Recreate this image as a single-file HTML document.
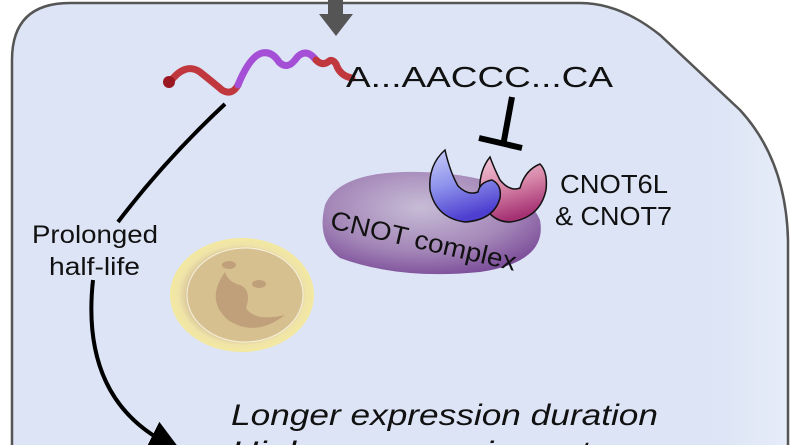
<!DOCTYPE html>
<html><head><meta charset="utf-8"><style>
html,body{margin:0;padding:0;background:#fff;width:800px;height:445px;overflow:hidden}
svg{display:block;overflow:hidden}
text{font-family:"Liberation Sans",sans-serif;fill:#111}
</style></head><body>
<svg width="800" height="445" viewBox="0 0 800 445">
<defs>
<clipPath id="frame"><rect x="0" y="0" width="800" height="445"/></clipPath>
<radialGradient id="ell" cx="0.45" cy="0.35" r="0.7">
<stop offset="0" stop-color="#c7bcd6"/><stop offset="0.6" stop-color="#a487b8"/><stop offset="1" stop-color="#7a4a98"/>
</radialGradient>
<linearGradient id="blue" x1="0" y1="0" x2="0.3" y2="1">
<stop offset="0" stop-color="#c9cdf7"/><stop offset="0.5" stop-color="#8f93ec"/><stop offset="1" stop-color="#4e3fd0"/>
</linearGradient>
<linearGradient id="pink" x1="0" y1="0" x2="0.3" y2="1">
<stop offset="0" stop-color="#f4c8d8"/><stop offset="0.5" stop-color="#d98aab"/><stop offset="1" stop-color="#a53173"/>
</linearGradient>
<radialGradient id="yel" cx="0.5" cy="0.5" r="0.5">
<stop offset="0.75" stop-color="#d9c49a"/><stop offset="0.88" stop-color="#efe3a8"/><stop offset="1" stop-color="#f3e9a0"/>
</radialGradient>
<linearGradient id="bg" x1="0" y1="0" x2="1" y2="0">
<stop offset="0" stop-color="#dde4f6"/><stop offset="0.9" stop-color="#dce4f5"/><stop offset="1" stop-color="#e6ecf8"/>
</linearGradient>
<marker id="ah" markerWidth="8" markerHeight="8" refX="5" refY="4" orient="auto" markerUnits="strokeWidth"><path d="M0,0 L8,4 L0,8 z" fill="#000"/></marker>
</defs>
<g clip-path="url(#frame)">
<path d="M12,447 L12,60 Q12,3 70,3 L580,3 Q620,3 660,35 L740,110 Q786,160 788,240 L788,447 Z" fill="url(#bg)" stroke="#555" stroke-width="2.5"/>
<path d="M328,0 L343,0 L343,14 L353,14 L336,36 L319,14 L328,14 Z" fill="#555"/>
<path d="M170,82 Q185,62 200,72 Q215,84 222,90 Q232,96 238,85" fill="none" stroke="#c0383e" stroke-width="7" stroke-linecap="round"/>
<path d="M238,85 Q250,56 262,53 Q272,51 279,62 Q287,70 295,60 Q305,46 316,60" fill="none" stroke="#a44fd6" stroke-width="7" stroke-linecap="round"/>
<path d="M316,60 Q322,66 328,62 Q332,58 336,64 Q340,76 352,78" fill="none" stroke="#c0383e" stroke-width="7" stroke-linecap="round"/>
<circle cx="169" cy="82" r="6" fill="#9a1822"/>
<text x="346" y="87" font-size="29" textLength="267" lengthAdjust="spacingAndGlyphs">A...AACCC...CA</text>
<line x1="512" y1="97" x2="503" y2="146" stroke="#000" stroke-width="6"/>
<line x1="479" y1="138" x2="522" y2="148" stroke="#000" stroke-width="6"/>
<path d="M325,205 Q340,170 420,172 Q520,175 540,220 Q548,262 480,272 Q400,280 340,258 Q316,240 325,205 Z" fill="url(#ell)"/>
<text transform="translate(329,228) rotate(13)" font-size="26" textLength="190" lengthAdjust="spacingAndGlyphs">CNOT complex</text>
<path d="M490,157 Q478,172 480,195 Q488,222 510,222 Q540,218 546,190 Q548,172 540,164 Q525,170 520,188 Q510,192 500,180 Q494,168 490,157 Z" fill="url(#pink)" stroke="#111" stroke-width="1.5"/>
<path d="M445,150 Q428,165 430,190 Q436,218 465,222 Q494,220 500,198 Q502,185 492,180 Q480,182 478,192 Q468,196 458,186 Q450,172 445,150 Z" fill="url(#blue)" stroke="#111" stroke-width="1.5"/>
<text x="560" y="193" font-size="26" textLength="108" lengthAdjust="spacingAndGlyphs">CNOT6L</text>
<text x="555" y="225" font-size="26" textLength="117" lengthAdjust="spacingAndGlyphs">&amp; CNOT7</text>
<ellipse cx="242" cy="295" rx="72" ry="57" fill="url(#yel)"/>
<ellipse cx="245" cy="295" rx="58" ry="47" fill="#d7c08f" stroke="#f6f1e0" stroke-width="1"/>
<path d="M225,272 Q205,300 228,320 Q255,338 285,315 Q255,322 246,308 Q252,290 240,285 Q228,282 225,272Z" fill="#c0a07a"/>
<ellipse cx="229" cy="265" rx="7" ry="4" fill="#c0a07a"/>
<ellipse cx="259" cy="284" rx="7" ry="4" fill="#c0a07a"/>
<path d="M225,104 Q165,160 118,222" fill="none" stroke="#000" stroke-width="4"/>
<path d="M93,280 Q80,400 170,445" fill="none" stroke="#000" stroke-width="4" marker-end="url(#ah)"/>
<text x="32" y="243" font-size="25" textLength="126" lengthAdjust="spacingAndGlyphs">Prolonged</text>
<text x="49" y="275" font-size="25" textLength="91" lengthAdjust="spacingAndGlyphs">half-life</text>
<text x="231" y="425" font-size="30" font-style="italic" textLength="427" lengthAdjust="spacingAndGlyphs">Longer expression duration</text>
<text x="231" y="462" font-size="30" font-style="italic" textLength="380" lengthAdjust="spacingAndGlyphs">Higher expression rate</text>
</g>
</svg>
</body></html>
